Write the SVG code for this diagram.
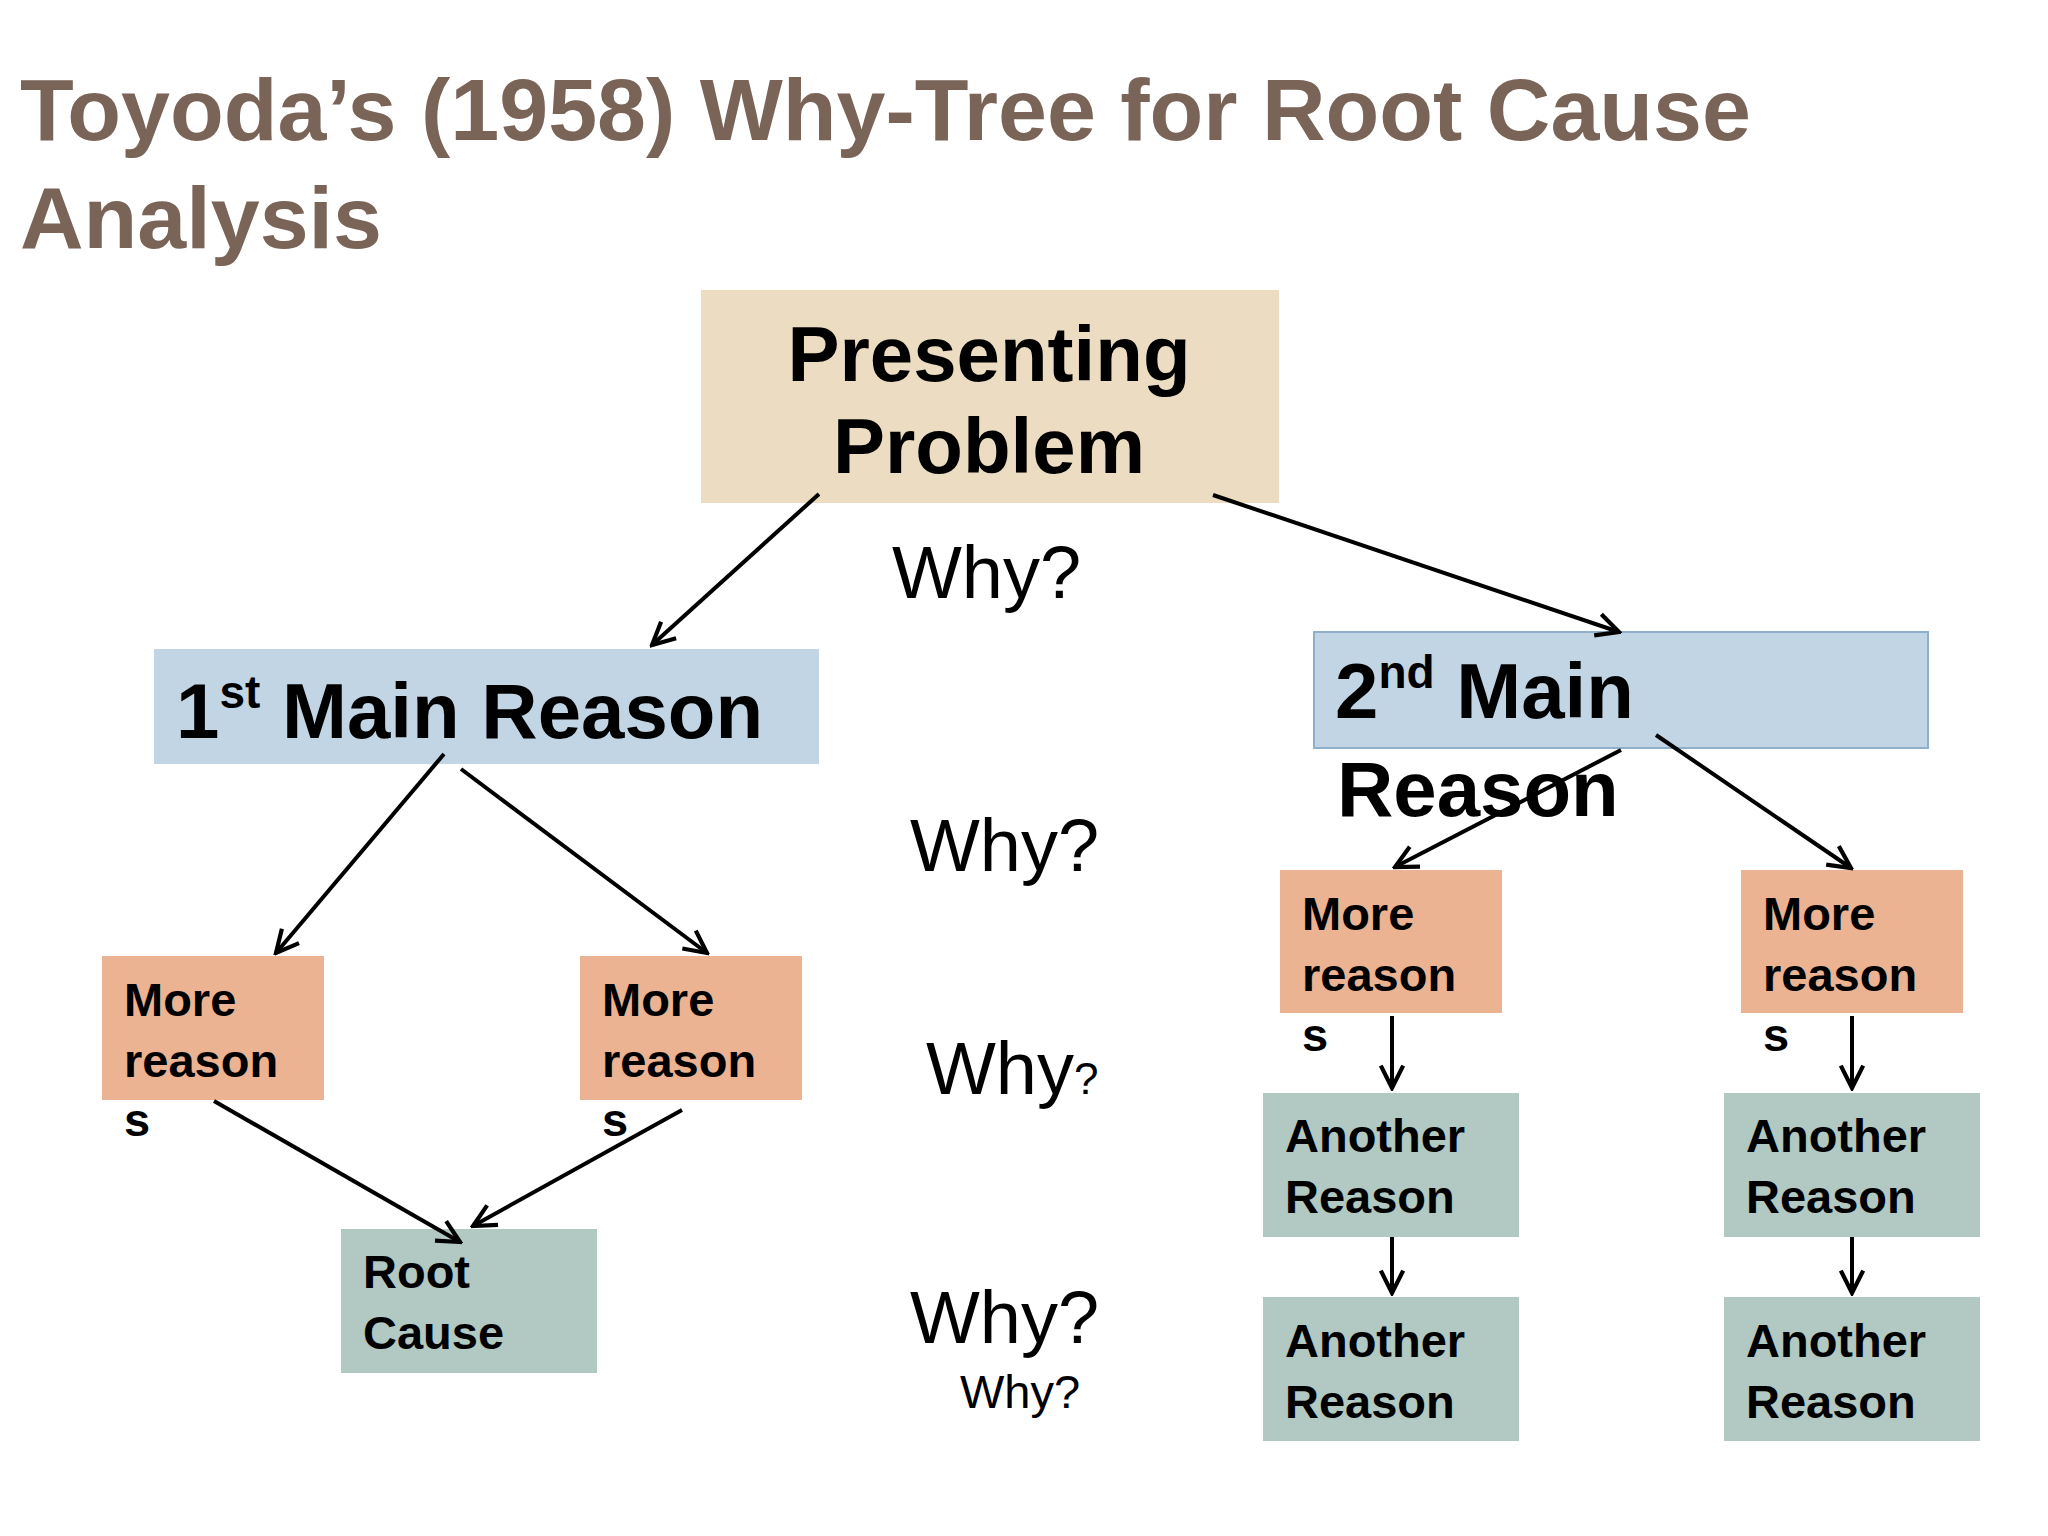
<svg xmlns="http://www.w3.org/2000/svg" width="2048" height="1536" viewBox="0 0 2048 1536">
<style>
.t{font-family:"Liberation Sans",Arial,sans-serif;font-weight:bold}
.n{font-family:"Liberation Sans",Arial,sans-serif}
.ttl{fill:#7a6458;font-size:88px}
.big{font-size:78px;fill:#000}
.sm{font-size:47px;fill:#000}
.why{font-size:74px;fill:#000}
.c line{stroke:#000;stroke-width:4;marker-end:url(#a)}
</style>
<defs><marker id="a" viewBox="0 0 20 20" refX="18" refY="10" markerWidth="7" markerHeight="7" orient="auto" markerUnits="strokeWidth"><polyline points="2,2 18,10 2,18" fill="none" stroke="#000" stroke-width="3"/></marker></defs>
<rect width="2048" height="1536" fill="#fff"/>
<g id="title"><text class="t ttl" x="20" y="140">Toyoda’s (1958) Why-Tree for Root Cause</text><text class="t ttl" x="20" y="248">Analysis</text></g>
<g id="presenting"><rect x="701" y="290" width="578" height="213" fill="#ecdcc2"/><text class="t big" x="989" y="381" text-anchor="middle">Presenting</text><text class="t big" x="989" y="473" text-anchor="middle">Problem</text></g>
<g id="main1"><rect x="154" y="649" width="665" height="115" fill="#c2d5e5"/><text class="t big" x="176" y="738">1<tspan font-size="46" dy="-30">st</tspan><tspan dy="30"> Main Reason</tspan></text></g>
<g id="main2"><rect x="1314" y="632" width="614" height="116" fill="#c2d5e5" stroke="#8fb0cc" stroke-width="2"/><text class="t big" x="1335" y="718">2<tspan font-size="46" dy="-30">nd</tspan><tspan dy="30"> Main</tspan></text><text class="t big" x="1337" y="816">Reason</text></g>
<g id="more1"><rect x="102" y="956" width="222" height="144" fill="#ebb392"/><text class="t sm" x="124" y="1016">More</text><text class="t sm" x="124" y="1077">reason</text><text class="t sm" x="124" y="1136">s</text></g>
<g id="more2"><rect x="580" y="956" width="222" height="144" fill="#ebb392"/><text class="t sm" x="602" y="1016">More</text><text class="t sm" x="602" y="1077">reason</text><text class="t sm" x="602" y="1136">s</text></g>
<g id="more3"><rect x="1280" y="870" width="222" height="143" fill="#ebb392"/><text class="t sm" x="1302" y="930">More</text><text class="t sm" x="1302" y="991">reason</text><text class="t sm" x="1302" y="1051">s</text></g>
<g id="more4"><rect x="1741" y="870" width="222" height="143" fill="#ebb392"/><text class="t sm" x="1763" y="930">More</text><text class="t sm" x="1763" y="991">reason</text><text class="t sm" x="1763" y="1051">s</text></g>
<g id="another1"><rect x="1263" y="1093" width="256" height="144" fill="#b1c9c2"/><text class="t sm" x="1285" y="1152">Another</text><text class="t sm" x="1285" y="1213">Reason</text></g>
<g id="another2"><rect x="1724" y="1093" width="256" height="144" fill="#b1c9c2"/><text class="t sm" x="1746" y="1152">Another</text><text class="t sm" x="1746" y="1213">Reason</text></g>
<g id="another3"><rect x="1263" y="1297" width="256" height="144" fill="#b1c9c2"/><text class="t sm" x="1285" y="1357">Another</text><text class="t sm" x="1285" y="1418">Reason</text></g>
<g id="another4"><rect x="1724" y="1297" width="256" height="144" fill="#b1c9c2"/><text class="t sm" x="1746" y="1357">Another</text><text class="t sm" x="1746" y="1418">Reason</text></g>
<g id="root"><rect x="341" y="1229" width="256" height="144" fill="#b1c9c2"/><text class="t sm" x="363" y="1288">Root</text><text class="t sm" x="363" y="1349">Cause</text></g>
<g id="whys"><text class="n why" x="892" y="598">Why?</text><text class="n why" x="910" y="871">Why?</text><text class="n why" x="926" y="1094">Why<tspan font-size="44">?</tspan></text><text class="n why" x="910" y="1343">Why?</text><text class="n" font-size="47" x="960" y="1408">Why?</text></g>
<g class="c" id="connectors">
<line x1="819" y1="494" x2="652" y2="645"/>
<line x1="1213" y1="495" x2="1619" y2="632"/>
<line x1="444" y1="754" x2="276" y2="953"/>
<line x1="461" y1="769" x2="707" y2="953"/>
<line x1="214" y1="1101" x2="460" y2="1242"/>
<line x1="682" y1="1110" x2="473" y2="1226"/>
<line x1="1621" y1="750" x2="1395" y2="867"/>
<line x1="1656" y1="735" x2="1851" y2="868"/>
<line x1="1392" y1="1016" x2="1392" y2="1088"/>
<line x1="1852" y1="1016" x2="1852" y2="1088"/>
<line x1="1392" y1="1237" x2="1392" y2="1293"/>
<line x1="1852" y1="1237" x2="1852" y2="1293"/>
</g>
</svg>
